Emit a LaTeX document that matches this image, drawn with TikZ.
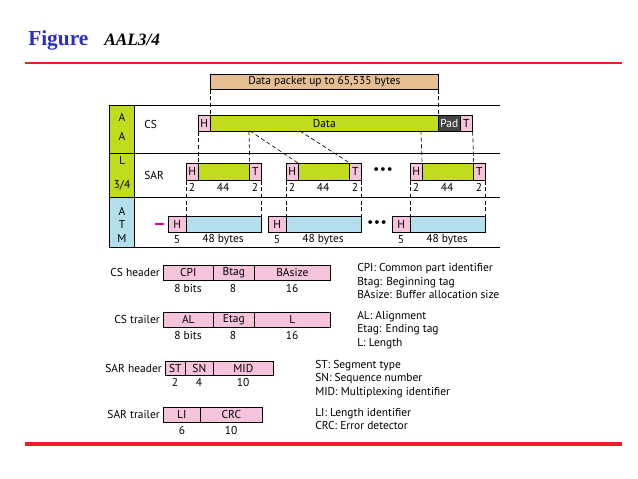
\documentclass[tikz,border=0pt]{standalone}
\usepackage{fontspec}
\setmainfont{PT Sans}
\newfontfamily\titlefont{Liberation Serif}
\newfontfamily\dotfont{DejaVu Sans}
\definecolor{pinkc}{HTML}{F6C3DD}
\definecolor{limec}{HTML}{C2DB1C}
\definecolor{bluec}{HTML}{B3DFEC}
\definecolor{tanc}{HTML}{E6BE92}
\definecolor{padc}{HTML}{444444}
\definecolor{titleblue}{HTML}{2A2FC4}
\definecolor{redl}{HTML}{EE1C24}
\begin{document}
\begin{tikzpicture}[x=0.75pt,y=-0.75pt,
  bx/.style={draw=black,line width=0.5pt,inner sep=0pt,font=\fontsize{8.6}{9}\selectfont},
  txt/.style={inner sep=0pt,font=\fontsize{8.6}{10.2}\selectfont},
  dsh/.style={dashed,line width=0.5pt,dash pattern=on 3pt off 2pt},
  sep/.style={line width=0.6pt}]
\useasboundingbox (0,0) rectangle (638,478);
\newcommand\fldbox[5]{\node[bx,fill=#5,minimum width=#2*0.75pt-#1*0.75pt,minimum height=#4*0.75pt-#3*0.75pt,anchor=north west] at (#1,#3)}
% title
\node[inner sep=0pt,anchor=west,text=titleblue,font=\titlefont\bfseries\fontsize{16}{18}\selectfont] (t1) at (28,40) {Figure};
\node[inner sep=0pt,anchor=west,font=\titlefont\bfseries\itshape\fontsize{13}{15}\selectfont] (t2) at (104,40) {AAL3/4};
\draw[redl,line width=1.2pt] (25,63) -- (622,63);
\draw[redl,line width=3pt] (25,444) -- (622,444);
% left strip
\fill[limec] (109,105) rectangle (134,197);
\fill[bluec] (109,197) rectangle (134,247);
\draw[sep] (109,105) rectangle (134,247);
\draw[sep] (109,105) -- (500,105) (109,153) -- (500,153) (109,197) -- (500,197) (109,247) -- (500,247);
\foreach \t/\y in {A/117,A/136,L/160,3\slash4/185,A/211,T/224,M/238}\node[txt] at (122,\y) {\t};
\node[txt,anchor=west] (cs) at (144,124) {CS};
\node[txt,anchor=west] (sar) at (144,175) {SAR};
% data packet
\fldbox{210}{438}{74}{89}{tanc} (pkt) {Data packet up to 65,535 bytes};
% CS row
\fldbox{198}{210}{115}{131}{pinkc} (csh) {H};
\fldbox{210}{438}{115}{131}{limec} (csd) {Data};
\fldbox{438}{460}{115}{131}{padc} (pad) {\color{white}Pad};
\fldbox{460}{472}{115}{131}{pinkc} (cst) {T};
\draw[dsh] (pkt.south west) -- (csd.north west);
\draw[dsh] (pkt.south east) -- (csd.north east);
% SAR row
\foreach \i/\a in {1/186,2/286,3/410}{
  \pgfmathsetmacro\b{\a+12}\pgfmathsetmacro\c{\a+63}\pgfmathsetmacro\d{\a+75}
  \fldbox{\a}{\b}{163}{180}{pinkc} (sh\i) {H};
  \fldbox{\b}{\c}{163}{180}{limec} (sd\i) {};
  \fldbox{\c}{\d}{163}{180}{pinkc} (st\i) {T};
  \node[txt] (n1\i) at (\a+6,187) {2};
  \node[txt] (n2\i) at (\a+37,187) {44};
  \node[txt] (n3\i) at (\a+69,187) {2};
  \pgfmathsetmacro\e{\a-18}
  \fldbox{\e}{\a}{216}{232}{pinkc} (ah\i) {H};
  \fldbox{\a}{\d}{216}{232}{bluec} (ad\i) {};
  \node[txt] (a5\i) at (\a-9,240) {5};
  \node[txt] (a48\i) at (\a+37,240) {48 bytes};
  \draw[dsh] (sh\i.south west) -- (ad\i.north west);
  \draw[dsh] (st\i.south east) -- (ad\i.north east);
}
\node[txt,font=\dotfont\bfseries\fontsize{8}{9}\selectfont] (dots1) at (383,171) {•••};
\node[txt,font=\dotfont\bfseries\fontsize{8}{9}\selectfont] (dots2) at (377,224) {•••};
\draw[magenta,line width=1pt] (155,224) -- (164,224);
\draw[dsh] (csh.south west) -- (sd1.north west);
\draw[dsh] (249,131) -- (sd1.north east);
\draw[dsh] (421,131) -- (sd3.north west);
\draw[dsh] (cst.south east) -- (sd3.north east);
\draw[dsh] (250,131) -- (sd2.north west);
\draw[dsh] (300,131) -- (sd2.north east);
% header/trailer formats
\node[txt,anchor=east] (l1) at (160,272) {CS header};
\fldbox{163}{213}{265}{280}{pinkc} (cpi) {CPI};
\fldbox{213}{254}{265}{280}{pinkc} (btag) {Btag};
\fldbox{254}{330}{265}{280}{pinkc} (bas) {BAsize};
\node[txt] at (188,288) {8 bits};\node[txt] at (233,288) {8};\node[txt] at (292,288) {16};
\node[txt,anchor=west,align=left] (g1) at (357,281) {CPI: Common part identifier\\Btag: Beginning tag\\BAsize: Buffer allocation size};
\node[txt,anchor=east] (l2) at (160,319) {CS trailer};
\fldbox{163}{213}{312}{327}{pinkc} (al) {AL};
\fldbox{213}{254}{312}{327}{pinkc} (etag) {Etag};
\fldbox{254}{330}{312}{327}{pinkc} (ll) {L};
\node[txt] at (188,335) {8 bits};\node[txt] at (233,335) {8};\node[txt] at (292,335) {16};
\node[txt,anchor=west,align=left] (g2) at (357,330) {AL: Alignment\\Etag: Ending tag\\L: Length};
\node[txt,anchor=east] (l3) at (162,368) {SAR header};
\fldbox{165}{185}{361}{375}{pinkc} (stb) {ST};
\fldbox{185}{213}{361}{375}{pinkc} (snb) {SN};
\fldbox{213}{273}{361}{375}{pinkc} (mid) {MID};
\node[txt] at (175,382) {2};\node[txt] at (199,382) {4};\node[txt] at (243,382) {10};
\node[txt,anchor=west,align=left] (g3) at (315,379) {ST: Segment type\\SN: Sequence number\\MID: Multiplexing identifier};
\node[txt,anchor=east] (l4) at (160,414) {SAR trailer};
\fldbox{163}{200}{407}{422}{pinkc} (li) {LI};
\fldbox{200}{262}{407}{422}{pinkc} (crc) {CRC};
\node[txt] at (182,430) {6};\node[txt] at (231,430) {10};
\node[txt,anchor=west,align=left] (g4) at (315,419) {LI: Length identifier\\CRC: Error detector};
\end{tikzpicture}
\end{document}
